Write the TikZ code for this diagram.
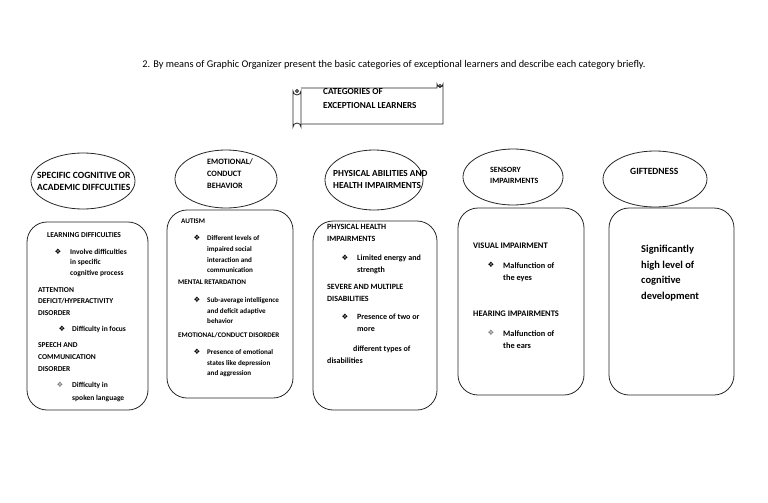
\documentclass[tikz,border=0pt]{standalone}
\usepackage{fontspec}
\setmainfont{Carlito}
\newfontfamily\symfont{DejaVu Sans}
\usetikzlibrary{shapes.geometric}

\begin{document}
\begin{tikzpicture}[
    x=1pt, y=-1pt,
    cat/.style={ellipse, draw=black!85, line width=0.8pt, minimum width=104pt, minimum height=56pt, inner sep=0pt},
    catbox/.style={rectangle, rounded corners=20pt, draw=black!85, line width=0.8pt, minimum height=188pt, inner sep=0pt},
    txt/.style={anchor=north west, inner sep=0pt, align=left, font=\bfseries\fontsize{7.5}{11.5}\selectfont},
    bul/.style={inner sep=0pt, font=\symfont\fontsize{7.5}{7.5}\selectfont},
    hbul/.style={bul, text=black!50}
]
    \useasboundingbox (0,0) rectangle (768,503);

    % title
    \node[font=\fontsize{10.3}{12}\selectfont] (title) at (394,65)
        {2. By means of Graphic Organizer present the basic categories of exceptional learners and describe each category briefly.};

    % scroll
    \draw[black!85, line width=0.8pt, fill=white]
        (301,88) -- (437,88) -- (437,84) arc[start angle=180, end angle=0, radius=3] -- (443,124) -- (301,124);
    \draw[black!85, line width=0.8pt] (440,86) circle[radius=1.5];
    \draw[black!85, line width=0.8pt, fill=white]
        (293,91) arc[start angle=180, end angle=0, radius=4] -- (301,127) arc[start angle=0, end angle=-180, radius=4] -- cycle;
    \draw[black!85, line width=0.8pt] (297,91) circle[radius=1.5];
    \node[txt, font=\bfseries\fontsize{9.2}{14}\selectfont] (categories) at (323,88.5)
        {CATEGORIES OF\\EXCEPTIONAL LEARNERS};

    % categories
    \node[cat] (specific) at (83,181) {};
    \node[cat, minimum width=102pt, minimum height=58pt] (emotional) at (226,179) {};
    \node[cat, minimum width=98pt, minimum height=60pt] (physical) at (374,180) {};
    \node[cat, minimum width=100pt] (sensory) at (513,177) {};
    \node[cat] (gifted) at (655,179) {};

    \node[txt, font=\bfseries\fontsize{9.5}{11.5}\selectfont] (specifictext) at (37,172.5)
        {SPECIFIC COGNITIVE OR\\ACADEMIC DIFFCULTIES};
    \node[txt, font=\bfseries\fontsize{8.2}{12}\selectfont] (emotionaltext) at (207,159)
        {EMOTIONAL/\\CONDUCT\\BEHAVIOR};
    \node[txt, font=\bfseries\fontsize{9.3}{12}\selectfont] (physicaltext) at (333,170.5)
        {PHYSICAL ABILITIES AND\\HEALTH IMPAIRMENTS};
    \node[txt, font=\bfseries\fontsize{8}{11}\selectfont] (sensorytext) at (490,167)
        {SENSORY\\IMPAIRMENTS};
    \node[txt, font=\bfseries\fontsize{9.5}{11}\selectfont] (giftedtext) at (630,168.5)
        {GIFTEDNESS};

    % boxes
    \node[catbox, minimum width=121pt] (specificbox) at (87.5,316) {};
    \node[catbox, minimum width=126pt] (emotionalbox) at (230,304) {};
    \node[catbox, minimum width=124pt, minimum height=189pt] (physicalbox) at (375,315.5) {};
    \node[catbox, minimum width=126pt, minimum height=187pt] (sensorybox) at (521,301.5) {};
    \node[catbox, minimum width=125pt, minimum height=187pt] (giftedbox) at (671.5,301.5) {};

    % specific cognitive or academic difficulties
    \node[txt] (learning) at (47,232) {LEARNING DIFFICULTIES};
    \node[bul] (learningbul) at (58,252) {❖};
    \node[txt, font=\bfseries\fontsize{7.5}{10.5}\selectfont] (learningdesc) at (70,249)
        {Involve difficulties\\in specific\\cognitive process};
    \node[txt] (adhd) at (38,287) {ATTENTION\\DEFICIT/HYPERACTIVITY\\DISORDER};
    \node[bul] (adhdbul) at (62,329) {❖};
    \node[txt] (adhddesc) at (72,326) {Difficulty in focus};
    \node[txt, font=\bfseries\fontsize{7.5}{12}\selectfont] (speech) at (38,342)
        {SPEECH AND\\COMMUNICATION\\DISORDER};
    \node[hbul] (speechbul) at (60,385) {❖};
    \node[txt, font=\bfseries\fontsize{7.5}{13}\selectfont] (speechdesc) at (72,382)
        {Difficulty in\\spoken language};

    % emotional/conduct behavior
    \node[txt, font=\bfseries\fontsize{7.1}{10.5}\selectfont] (autism) at (181,219) {AUTISM};
    \node[bul] (autismbul) at (197,238) {❖};
    \node[txt, font=\bfseries\fontsize{7.1}{10.7}\selectfont] (autismdesc) at (207,235.5)
        {Different levels of\\impaired social\\interaction and\\communication};
    \node[txt, font=\bfseries\fontsize{7.1}{10.5}\selectfont] (retard) at (178,280) {MENTAL RETARDATION};
    \node[bul] (retardbul) at (197,300) {❖};
    \node[txt, font=\bfseries\fontsize{7.1}{10.5}\selectfont] (retarddesc) at (207,297.5)
        {Sub-average intelligence\\and deficit adaptive\\behavior};
    \node[txt, font=\bfseries\fontsize{7.1}{10.5}\selectfont] (conduct) at (178,332) {EMOTIONAL/CONDUCT DISORDER};
    \node[bul] (conductbul) at (197,352) {❖};
    \node[txt, font=\bfseries\fontsize{7.1}{10.5}\selectfont] (conductdesc) at (207,349.5)
        {Presence of emotional\\states like depression\\and aggression};

    % physical abilities and health impairments
    \node[txt, font=\bfseries\fontsize{8}{12}\selectfont] (health) at (327,224) {PHYSICAL HEALTH\\IMPAIRMENTS};
    \node[bul] (healthbul) at (345,258) {❖};
    \node[txt, font=\bfseries\fontsize{8}{12}\selectfont] (healthdesc) at (357,255) {Limited energy and\\strength};
    \node[txt, font=\bfseries\fontsize{8}{12}\selectfont] (severe) at (327,284) {SEVERE AND MULTIPLE\\DISABILITIES};
    \node[bul] (severebul) at (345,317) {❖};
    \node[txt, font=\bfseries\fontsize{8}{12}\selectfont] (severedesc) at (357,314) {Presence of two or\\more};
    \node[txt, font=\bfseries\fontsize{8}{12}\selectfont] (severetypes) at (353,346) {different types of};
    \node[txt, font=\bfseries\fontsize{8}{12}\selectfont] (severedis) at (327,358) {disabilities};

    % sensory impairments
    \node[txt, font=\bfseries\fontsize{8.5}{12}\selectfont] (visual) at (473,243) {VISUAL IMPAIRMENT};
    \node[bul] (visualbul) at (491,265) {❖};
    \node[txt, font=\bfseries\fontsize{8.3}{12}\selectfont] (visualdesc) at (503,262) {Malfunction of\\the eyes};
    \node[txt, font=\bfseries\fontsize{8.5}{12}\selectfont] (hearing) at (473,311) {HEARING IMPAIRMENTS};
    \node[hbul] (hearingbul) at (491,333) {❖};
    \node[txt, font=\bfseries\fontsize{8.3}{12}\selectfont] (hearingdesc) at (503,330) {Malfunction of\\the ears};

    % giftedness
    \node[txt, font=\bfseries\fontsize{10.5}{15.7}\selectfont] (gifteddesc) at (641,245)
        {Significantly\\high level of\\cognitive\\development};
\end{tikzpicture}
\end{document}
